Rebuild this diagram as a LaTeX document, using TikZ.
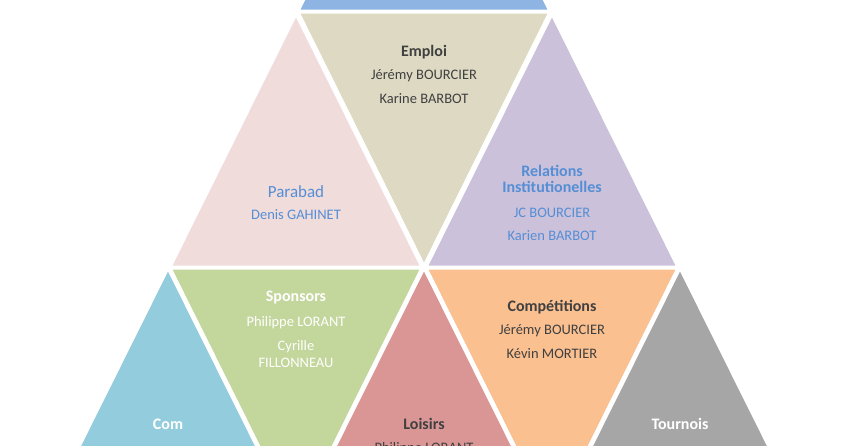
\documentclass[tikz,border=0pt]{standalone}
\usepackage{fontspec}
\setmainfont{Carlito}
\begin{document}
\begin{tikzpicture}[x=1pt,y=-1pt,
  tri/.style={draw=white,line width=3pt,line join=miter},
  ttl/.style={font=\fontsize{16}{17}\selectfont\bfseries,align=center,inner sep=0pt},
  nm/.style={font=\fontsize{14.5}{16}\selectfont,inner sep=0pt}]
\definecolor{cTop}{HTML}{8EB4E3}
\definecolor{cPar}{HTML}{F0DCDB}
\definecolor{cEmp}{HTML}{DDD9C3}
\definecolor{cRel}{HTML}{CCC1DA}
\definecolor{cCom}{HTML}{93CDDD}
\definecolor{cSpo}{HTML}{C3D69B}
\definecolor{cLoi}{HTML}{D99694}
\definecolor{cCmp}{HTML}{FAC090}
\definecolor{cTou}{HTML}{A6A6A6}
\definecolor{tDark}{HTML}{404040}
\definecolor{tBlue}{HTML}{558ED5}
\path[use as bounding box] (0,0) rectangle (846,445);
\begin{scope}
\clip (0,0) rectangle (846,445);
\fill[tri,fill=cTop] (298,11) -- (550,11) -- (424,-240) -- cycle;
\fill[tri,fill=cPar] (170,267) -- (422,267) -- (296,14) -- cycle;
\fill[tri,fill=cEmp] (298,12) -- (550,12) -- (424,266) -- cycle;
\fill[tri,fill=cRel] (426,267) -- (678,267) -- (552,14) -- cycle;
\fill[tri,fill=cCom] (42,521) -- (294,521) -- (168,268) -- cycle;
\fill[tri,fill=cSpo] (170,268) -- (422,268) -- (296,521) -- cycle;
\fill[tri,fill=cLoi] (298,521) -- (550,521) -- (424,268) -- cycle;
\fill[tri,fill=cCmp] (426,268) -- (678,268) -- (552,521) -- cycle;
\fill[tri,fill=cTou] (554,521) -- (806,521) -- (680,268) -- cycle;
\node[ttl,text=tDark] (emp) at (424,52) {Emploi};
\node[nm,text=tDark] (emp1) at (424,76) {Jérémy BOURCIER};
\node[nm,text=tDark] (emp2) at (424,99) {Karine BARBOT};
\node[nm,text=tBlue,font=\fontsize{17}{18}\selectfont] (par) at (296,192) {Parabad};
\node[nm,text=tBlue] (par1) at (296,215) {Denis GAHINET};
\node[ttl,text=tBlue] (rel) at (552,179) {Relations\\[-1pt]Institutionelles};
\node[nm,text=tBlue] (rel1) at (552,213) {JC BOURCIER};
\node[nm,text=tBlue] (rel2) at (552,236) {Karien BARBOT};
\node[ttl,text=white] (spo) at (296,298) {Sponsors};
\node[nm,text=white] (spo1) at (296,323) {Philippe LORANT};
\node[nm,text=white,align=center] (spo2) at (296,354) {Cyrille\\[1pt]FILLONNEAU};
\node[ttl,text=tDark] (cmp) at (552,307) {Compétitions};
\node[nm,text=tDark] (cmp1) at (552,331) {Jérémy BOURCIER};
\node[nm,text=tDark] (cmp2) at (552,354) {Kévin MORTIER};
\node[ttl,text=white] (com) at (168,424) {Com};
\node[ttl,text=tDark] (loi) at (424,424) {Loisirs};
\node[ttl,text=white] (tou) at (680,424) {Tournois};
\node[nm,text=tDark] (loi1) at (424,449) {Philippe LORANT};
\end{scope}
\end{tikzpicture}
\end{document}
